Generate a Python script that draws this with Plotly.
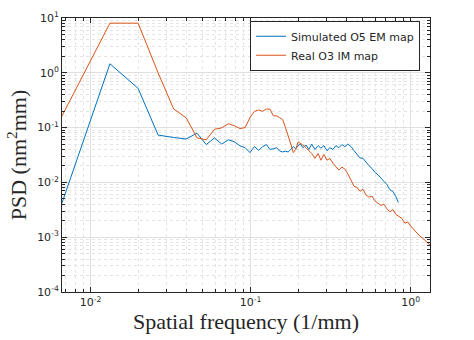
import plotly.graph_objects as go

# Simulated O5 EM map (blue)
sim_freq = [0.0066, 0.0132, 0.0198, 0.0264, 0.0330, 0.0396, 0.0462, 0.0528, 0.0594, 0.0660,
            0.0726, 0.0792, 0.0858, 0.0924, 0.0990, 0.1056, 0.1122, 0.1188, 0.1254, 0.1320,
            0.1386, 0.1452, 0.1518, 0.1584, 0.1650, 0.1716, 0.1782, 0.1848, 0.1914, 0.1980,
            0.2046, 0.212, 0.222, 0.231, 0.241, 0.252, 0.264, 0.275, 0.287, 0.300,
            0.313, 0.327, 0.341, 0.356, 0.372, 0.388, 0.405, 0.424, 0.443, 0.462,
            0.482, 0.504, 0.526, 0.548, 0.573, 0.598, 0.625, 0.652, 0.681, 0.711,
            0.743, 0.775, 0.809, 0.838]
sim_psd = [0.0041, 1.46, 0.52, 0.073, 0.066, 0.062, 0.079, 0.049, 0.065, 0.050,
           0.060, 0.055, 0.0466, 0.043, 0.035, 0.045, 0.0385, 0.045, 0.049, 0.040,
           0.041, 0.043, 0.0375, 0.036, 0.037, 0.036, 0.040, 0.045, 0.041, 0.047,
           0.050, 0.043, 0.048, 0.040, 0.050, 0.040, 0.047, 0.042, 0.047, 0.038,
           0.043, 0.040, 0.047, 0.043, 0.049, 0.045, 0.050, 0.045, 0.038, 0.032,
           0.028, 0.0274, 0.0230, 0.0203, 0.0180, 0.0153, 0.0138, 0.0117, 0.0104, 0.0091,
           0.0073, 0.0068, 0.0055, 0.0043]

# Real O3 IM map (orange)
real_freq = [0.0066, 0.0132, 0.0198, 0.0264, 0.0330, 0.0396, 0.0462, 0.0528, 0.0594, 0.0660,
             0.0726, 0.0792, 0.0858, 0.0924, 0.0990, 0.1056, 0.1122, 0.1188, 0.1254, 0.1320,
             0.1386, 0.1452, 0.1518, 0.1584, 0.1650, 0.1716, 0.1782, 0.1848, 0.1914, 0.1980,
             0.2046, 0.212, 0.222, 0.231, 0.241, 0.252, 0.264, 0.275, 0.287, 0.300,
             0.313, 0.327, 0.341, 0.356, 0.372, 0.388, 0.405, 0.424, 0.443, 0.462,
             0.482, 0.504, 0.526, 0.548, 0.573, 0.598, 0.625, 0.652, 0.681, 0.711,
             0.743, 0.775, 0.809, 0.845, 0.882, 0.920, 0.960, 1.00, 1.04, 1.09,
             1.14, 1.19, 1.24, 1.30, 1.32]
real_psd = [0.16, 8.05, 8.05, 1.0, 0.22, 0.150, 0.065, 0.060, 0.093, 0.099,
            0.118, 0.108, 0.096, 0.100, 0.152, 0.198, 0.210, 0.198, 0.218, 0.218,
            0.164, 0.164, 0.152, 0.140, 0.101, 0.067, 0.050, 0.035, 0.040, 0.055,
            0.052, 0.048, 0.043, 0.0375, 0.0336, 0.0274, 0.0336, 0.0254, 0.0323, 0.0254,
            0.0274, 0.0224, 0.0198, 0.0168, 0.0190, 0.0175, 0.0143, 0.0108, 0.0085, 0.0081,
            0.0069, 0.0075, 0.0059, 0.0054, 0.0056, 0.0046, 0.0042, 0.0038, 0.0040, 0.0033,
            0.0029, 0.0032, 0.0026, 0.0024, 0.0022, 0.0018, 0.0019, 0.0016, 0.00140, 0.00125,
            0.00105, 0.00096, 0.00085, 0.00077, 0.00072]

x_tickvals = [0.01, 0.1, 1]
x_ticktext = ["10<sup>-2</sup>", "10<sup>-1</sup>", "10<sup>0</sup>"]
y_tickvals = [1e-4, 1e-3, 1e-2, 1e-1, 1, 10]
y_ticktext = ["10<sup>-4</sup>", "10<sup>-3</sup>", "10<sup>-2</sup>", "10<sup>-1</sup>",
              "10<sup>0</sup>", "10<sup>1</sup>"]

fig = go.Figure()
fig.add_trace(go.Scatter(x=sim_freq, y=sim_psd, mode="lines", name="Simulated O5 EM map",
                         line=dict(color="#0072BD", width=1)))
fig.add_trace(go.Scatter(x=real_freq, y=real_psd, mode="lines", name="Real O3 IM map",
                         line=dict(color="#D95319", width=1)))

axis_common = dict(
    showline=True, linecolor="#262626", linewidth=1, mirror="allticks",
    ticks="inside", ticklen=5, tickcolor="#262626",
    showgrid=True, gridcolor="#e0e0e0", gridwidth=1, zeroline=False,
    tickfont=dict(family="DejaVu Sans", size=11, color="#262626"),
    minor=dict(ticks="inside", ticklen=3, tickcolor="#262626", showgrid=True,
               gridcolor="#e4e4e4", griddash="dot", gridwidth=1, dtick="D1"),
)

fig.update_xaxes(type="log", range=[-2.179, 0.121], tickvals=x_tickvals, ticktext=x_ticktext,
                 title=dict(text="Spatial frequency (1/mm)",
                            font=dict(family="Liberation Serif", size=22, color="#262626"),
                            standoff=5),
                 **axis_common)
fig.update_yaxes(type="log", range=[-4, 1], tickvals=y_tickvals, ticktext=y_ticktext,
                 title=dict(text="PSD (nm<sup>2</sup>mm)",
                            font=dict(family="Liberation Serif", size=22, color="#262626"),
                            standoff=4),
                 **axis_common)

fig.update_layout(
    width=474, height=340,
    margin=dict(l=62, r=44, t=10, b=47),
    paper_bgcolor="white", plot_bgcolor="white",
    showlegend=True,
    legend=dict(x=0.973, y=0.99, xanchor="right", yanchor="top",
                bgcolor="white", bordercolor="#262626", borderwidth=1,
                font=dict(family="DejaVu Sans", size=11, color="#262626"),
                tracegroupgap=0, itemwidth=30),
)

fig.write_html("out.html")
